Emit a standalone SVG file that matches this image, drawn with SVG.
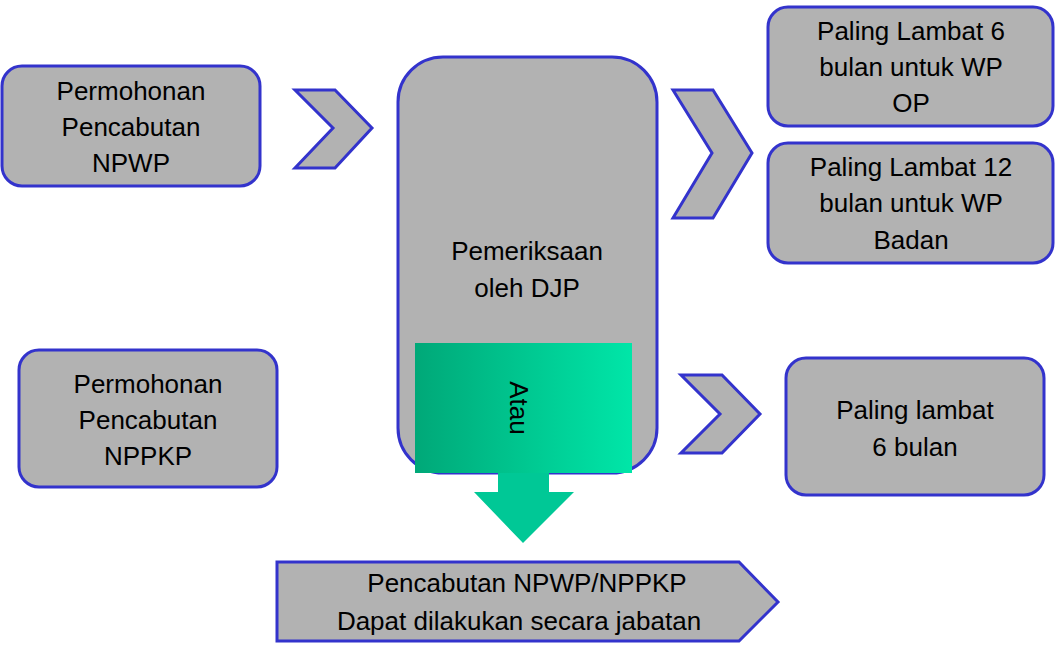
<svg xmlns="http://www.w3.org/2000/svg" width="1060" height="661" viewBox="0 0 1060 661">
<defs>
<style>
.b{fill:#b2b2b2;stroke:#3333cc;stroke-width:3}
.t{font-family:"Liberation Sans",Arial,sans-serif;font-size:26px;fill:#000;text-anchor:middle}
</style>
<linearGradient id="g" x1="0" x2="1" y1="0" y2="0"><stop offset="0" stop-color="#00a878"/><stop offset="1" stop-color="#00e6a8"/></linearGradient>
</defs>
<rect width="1060" height="661" fill="#fff"/>
<g id="n1"><rect class="b" x="2" y="66" width="258" height="120" rx="20"/><text class="t" x="131" y="100">Permohonan</text><text class="t" x="131" y="136">Pencabutan</text><text class="t" x="131" y="172">NPWP</text></g>
<g id="n2"><rect class="b" x="19" y="350" width="258" height="137" rx="20"/><text class="t" x="148" y="393">Permohonan</text><text class="t" x="148" y="429">Pencabutan</text><text class="t" x="148" y="465">NPPKP</text></g>
<g id="n3"><rect class="b" x="398" y="57" width="259" height="416" rx="45"/><text class="t" x="527" y="260">Pemeriksaan</text><text class="t" x="527" y="297">oleh DJP</text></g>
<g id="n4"><rect class="b" x="768" y="7" width="285" height="119" rx="20"/><text class="t" x="911" y="40">Paling Lambat 6</text><text class="t" x="911" y="76">bulan untuk WP</text><text class="t" x="911" y="112">OP</text></g>
<g id="n5"><rect class="b" x="768" y="143" width="285" height="120" rx="20"/><text class="t" x="911" y="176">Paling Lambat 12</text><text class="t" x="911" y="212">bulan untuk WP</text><text class="t" x="911" y="249">Badan</text></g>
<g id="n6"><rect class="b" x="786" y="358" width="258" height="137" rx="20"/><text class="t" x="915" y="419">Paling lambat</text><text class="t" x="915" y="456">6 bulan</text></g>
<g id="n7"><polygon class="b" points="277,562 739,562 778,602 739,641 277,641"/><text class="t" x="527" y="592">Pencabutan NPWP/NPPKP</text><text class="t" x="519" y="630">Dapat dilakukan secara jabatan</text></g>
<g id="connectors">
<polygon class="b" points="295,90 335,90 372,128 335,168 295,168 333,128"/>
<polygon class="b" points="673,90 713,90 752,153 713,218 673,218 712,153"/>
<polygon class="b" points="681,375 722,375 760,414 722,453 681,453 720,414"/>
<g id="atau">
<polygon fill="#00c896" points="498,470 549,470 549,492 574,492 523,543 474,492 498,492"/>
<rect x="415" y="343" width="217" height="130" fill="url(#g)"/>
<text class="t" transform="translate(510,408) rotate(90)" x="0" y="0" dy="0">Atau</text>
</g>
</g>
</svg>
